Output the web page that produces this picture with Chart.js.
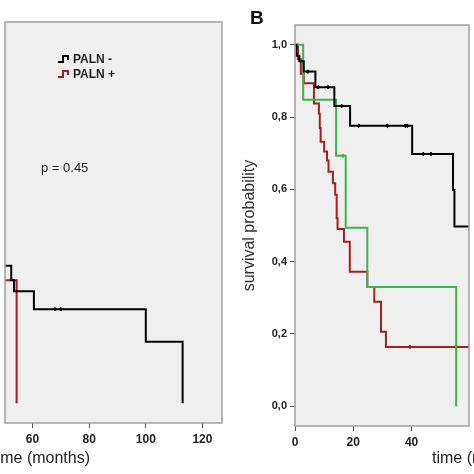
<!DOCTYPE html>
<html>
<head>
<script src="https://cdn.jsdelivr.net/npm/chart.js@4"></script>
<style>
  body { margin: 0; background: #fff; width: 474px; height: 474px; overflow: hidden; position: relative; }
  .box { position: absolute; top: 0; height: 474px; }
</style>
</head>
<body>
<div class="box" style="left:0;width:240px"><canvas id="chartA"></canvas></div>
<div class="box" style="left:240px;width:234px"><canvas id="chartB"></canvas></div>
<script>
// ---- panel A (only the right part is visible) ----
const aBlackX = [40, 52.5, 53.5, 60.5, 100, 113, 113];
const aBlackY = [0.38, 0.34, 0.31, 0.26, 0.17, 0.0, 0.0];
const aRedX = [40, 54.4, 54.4];
const aRedY = [0.34, 0.0, 0.0];
const aCensorX = [68, 70];
const aCensorY = [0.26, 0.26];

// ---- panel B ----
const bBlackX = [0, 0.5, 1.5, 3, 7, 13.5, 18.9, 40.2, 54.2, 54.7, 60];
const bBlackY = [1.0, 0.97, 0.955, 0.926, 0.883, 0.831, 0.776, 0.698, 0.598, 0.497, 0.497];
const bBlackCensX = [4.4, 8, 11.3, 16, 21.9, 31.7, 37.8, 38.5, 44, 46.7];
const bBlackCensY = [0.926, 0.883, 0.883, 0.831, 0.776, 0.776, 0.776, 0.776, 0.698, 0.698];

const bRedX = [0, 1, 2, 3, 6.5, 8.2, 8.5, 8.8, 10, 11, 11.5, 13, 13.8, 14.3, 14.6, 16.8, 18.8, 24.8, 27.2, 29.5, 31.2, 60];
const bRedY = [1.0, 0.96, 0.92, 0.894, 0.838, 0.81, 0.77, 0.732, 0.705, 0.68, 0.649, 0.617, 0.585, 0.52, 0.49, 0.455, 0.372, 0.33, 0.289, 0.206, 0.164, 0.164];
const bRedCensX = [39.5];
const bRedCensY = [0.164];

const bGreenX = [0, 2.8, 14.1, 17.4, 24.8, 55.3, 55.3];
const bGreenY = [1.0, 0.848, 0.693, 0.494, 0.33, 0.0, 0.0];
const bGreenCensX = [16.5];
const bGreenCensY = [0.693];

const yTicks = [0, 0.2, 0.4, 0.6, 0.8, 1.0];
const RED = "#a3201f";
const GREEN = "#3cb44a";

const pts = (xs, ys) => xs.map((x, i) => ({ x: x, y: ys[i] }));

function curve(xs, ys, color) {
  return { type: "line", data: pts(xs, ys), borderColor: color, borderWidth: 2, stepped: true, pointRadius: 0, fill: false };
}
function censor(xs, ys, color) {
  return { type: "scatter", data: pts(xs, ys), borderColor: color, backgroundColor: color, pointStyle: "rectRot", pointRadius: 1.8, borderWidth: 1 };
}

// extra drawing per canvas (kept outside the options so Chart.js does not treat it as scriptable)
const extras = {
  chartA: {
    xTitle: "time (months)", align: "right", titleX: 90,
    draw(c) {
      c.font = "bold 12px Arial";
      c.textAlign = "left";
      [["PALN -", "#000", 62], ["PALN +", RED, 77]].forEach(([t, col, y]) => {
        c.strokeStyle = col; c.lineWidth = 2;
        c.beginPath(); c.moveTo(58, y); c.lineTo(63, y); c.lineTo(63, y - 6); c.lineTo(68, y - 6); c.lineTo(68, y - 2); c.stroke();
        c.fillStyle = "#222"; c.fillText(t, 73, y + 1);
      });
      c.font = "13px Arial";
      c.fillText("p = 0.45", 41, 172);
    },
  },
  chartB: {
    xTitle: "time (months)", align: "left", titleX: 192,
    draw(c) {
      c.font = "bold 19px Arial";
      c.fillStyle = "#111";
      c.textAlign = "left";
      c.fillText("B", 10, 24);
    },
  },
};

const plotFrame = {
  id: "plotFrame",
  beforeDraw(chart) {
    const a = chart.chartArea, c = chart.ctx;
    c.save();
    c.fillStyle = "#efefef";
    c.fillRect(a.left, a.top, a.right - a.left, a.bottom - a.top);
    c.restore();
  },
  afterDraw(chart) {
    const a = chart.chartArea, c = chart.ctx, o = extras[chart.canvas.id];
    c.save();
    c.strokeStyle = "#a0a0a0";
    c.lineWidth = 1.5;
    c.strokeRect(a.left, a.top, a.right - a.left, a.bottom - a.top);
    c.fillStyle = "#222";
    c.font = "16px Arial, 'Liberation Sans'";
    c.textAlign = o.align;
    c.fillText(o.xTitle, o.titleX, 463);
    o.draw(c);
    c.restore();
  },
};

function xAxis(min, max, h) {
  return {
    type: "linear", min: min, max: max,
    afterBuildTicks: (s) => { s.ticks = [0, 20, 40, 60, 80, 100, 120].filter(v => v >= min && v <= max).map(v => ({ value: v })); },
    afterFit: (s) => { s.height = h; },
    grid: { display: true, drawOnChartArea: false, tickLength: 5, color: "#555" },
    border: { display: false },
    ticks: { color: "#222", font: { size: 12, weight: "bold", family: "Arial" }, padding: 4 },
  };
}
function yAxis(show) {
  return {
    type: "linear", min: -0.055, max: 1.055, display: show,
    afterBuildTicks: (s) => { s.ticks = yTicks.map(v => ({ value: v })); },
    afterFit: (s) => { s.width = show ? 55 : 0; },
    grid: { display: true, drawOnChartArea: false, tickLength: 5, color: "#555" },
    border: { display: false },
    ticks: { color: "#222", font: { size: 11, weight: "bold", family: "Arial" }, padding: 3, callback: (v) => v.toFixed(1).replace(".", ",") },
    title: { display: true, text: "survival probability", color: "#333", font: { size: 16, family: "Arial" }, padding: 0 },
  };
}

new Chart(document.getElementById("chartA"), {
  data: {
    datasets: [
      curve(aBlackX, aBlackY, "#000"),
      curve(aRedX, aRedY, RED),
      censor(aCensorX, aCensorY, "#000"),
    ],
  },
  options: {
    responsive: true, maintainAspectRatio: false, animation: false,
    layout: { padding: { top: 22, left: 0, right: 18, bottom: 0 } },
    scales: { x: xAxis(50.3, 126.9, 51), y: yAxis(false) },
    plugins: { legend: { display: false }, tooltip: { enabled: false } },
  },
  plugins: [plotFrame],
});

new Chart(document.getElementById("chartB"), {
  data: {
    datasets: [
      curve(bBlackX, bBlackY, "#000"),
      curve(bGreenX, bGreenY, GREEN),
      curve(bRedX, bRedY, RED),
      censor(bBlackCensX, bBlackCensY, "#000"),
      censor(bGreenCensX, bGreenCensY, GREEN),
      censor(bRedCensX, bRedCensY, RED),
    ],
  },
  options: {
    responsive: true, maintainAspectRatio: false, animation: false,
    layout: { padding: { top: 25, left: 0, right: 0, bottom: 0 } },
    scales: { x: xAxis(0, 59.7, 48), y: yAxis(true) },
    plugins: { legend: { display: false }, tooltip: { enabled: false } },
  },
  plugins: [plotFrame],
});
</script>
</body>
</html>
